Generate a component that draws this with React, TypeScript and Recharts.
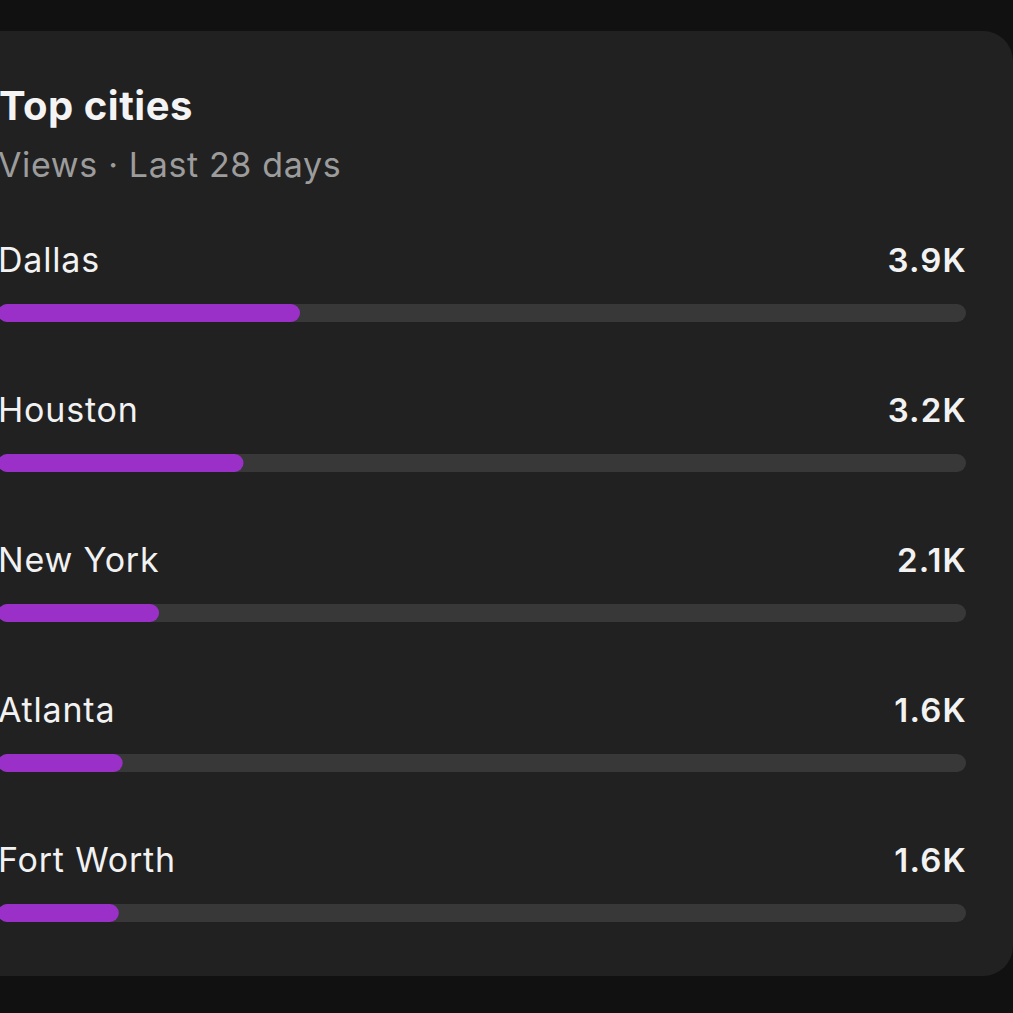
import { BarChart, Bar, XAxis, YAxis, LabelList } from 'recharts'

// Top cities by views, last 28 days
const cities = ['Dallas', 'Houston', 'New York', 'Atlanta', 'Fort Worth']
const views = [3900, 3170, 2080, 1610, 1560]
const TOTAL_VIEWS = 12500

const data = cities.map((city, i) => ({ city, views: views[i] }))

const CHART_W = 968
const CHART_H = 750
const FONT = 'Inter, "Noto Sans", sans-serif'

function fmtK(v: number): string {
  return `${(v / 1000).toFixed(1)}K`
}

// city name on the left, value right-aligned with the end of the track
function RowLabel(props: any) {
  const { y, height, index } = props
  const cy = y + height / 2
  return (
    <g>
      <text
        x={0}
        y={cy - 41}
        fill="#f2f2f2"
        fontSize={34}
        fontFamily={FONT}
        style={{ letterSpacing: '0.8px' }}
      >
        {cities[index]}
      </text>
      <text
        x={CHART_W + 1}
        y={cy - 41}
        fill="#f2f2f2"
        fontSize={33}
        fontWeight={600}
        fontFamily={FONT}
        textAnchor="end"
        style={{ letterSpacing: '1.2px' }}
      >
        {fmtK(views[index])}
      </text>
    </g>
  )
}

export default function App() {
  return (
    <div style={{ position: 'fixed', inset: 0, background: '#111111', overflow: 'hidden' }}>
      <div
        style={{
          position: 'absolute',
          left: -40,
          top: 31,
          width: 1053,
          height: 945,
          background: '#212121',
          borderRadius: 30,
        }}
      />
      <div
        style={{
          position: 'absolute',
          left: -1,
          top: 86,
          fontFamily: FONT,
          fontSize: 40,
          lineHeight: '40px',
          fontWeight: 700,
          letterSpacing: '0.5px',
          color: '#f4f4f4',
        }}
      >
        Top cities
      </div>
      <div
        style={{
          position: 'absolute',
          left: -2,
          top: 148,
          fontFamily: FONT,
          fontSize: 34,
          lineHeight: '34px',
          letterSpacing: '0.65px',
          color: '#9c9c9c',
        }}
      >
        Views · Last 28 days
      </div>
      <div style={{ position: 'absolute', left: -2, top: 238 }}>
        <BarChart
          width={CHART_W}
          height={CHART_H}
          data={data}
          layout="vertical"
          margin={{ top: 0, right: 0, bottom: 0, left: 0 }}
          style={{ overflow: 'visible' }}
        >
          <XAxis type="number" domain={[0, TOTAL_VIEWS]} hide />
          <YAxis type="category" dataKey="city" hide />
          <Bar
            dataKey="views"
            fill="#9b30c9"
            barSize={18}
            radius={9}
            background={{ fill: '#383838', radius: 9 }}
            isAnimationActive={false}
          >
            <LabelList dataKey="views" content={<RowLabel />} />
          </Bar>
        </BarChart>
      </div>
    </div>
  )
}
